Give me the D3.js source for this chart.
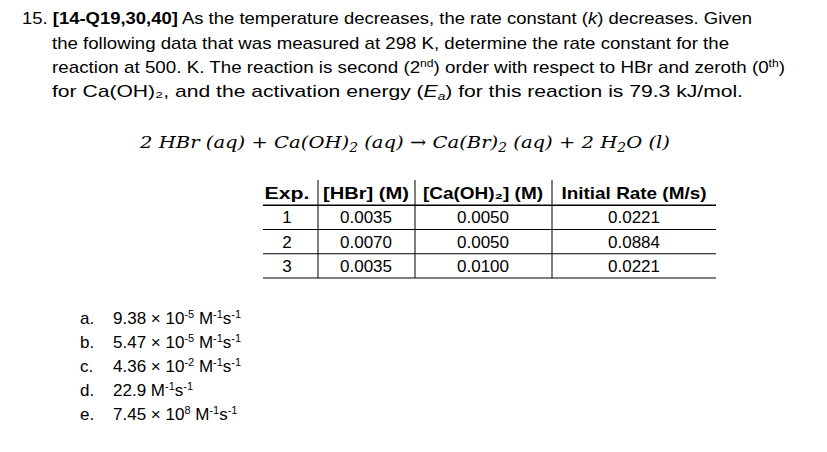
<!DOCTYPE html>
<html><head><meta charset="utf-8">
<script src="https://cdn.jsdelivr.net/npm/d3@7"></script>
<style>body{margin:0;background:#fff}text{font-family:"Liberation Sans",sans-serif;fill:#000}</style>
</head><body><svg id="q"></svg>
<script>
var headers = ['Exp.', '[HBr] (M)', '[Ca(OH)₂] (M)', 'Initial Rate (M/s)'];
var exps = ['1', '2', '3'];
var hbr = ['0.0035', '0.0070', '0.0035'];
var caoh = ['0.0050', '0.0050', '0.0100'];
var rates = ['0.0221', '0.0884', '0.0221'];
var letters = ['a.', 'b.', 'c.', 'd.', 'e.'];
var mant = ['9.38 × 10', '5.47 × 10', '4.36 × 10', '22.9', '7.45 × 10'];
var expo = ['-5', '-5', '-2', null, '8'];

var svg = d3.select('svg#q').attr('width', 827).attr('height', 452);
var fs = 17;

var lines = [
    {x: 22, end: 752, y: 24, parts: [['15. '], ['[14-Q19,30,40]', 'b'], [' As the temperature decreases, the rate constant ('], ['k', 'i'], [') decreases.  Given']]},
    {x: 52, end: 729, y: 49, parts: [['the following data that was measured at 298 K, determine the rate constant for the']]},
    {x: 52, end: 785, y: 73, parts: [['reaction at 500. K. The reaction is second (2'], ['nd', 'sup'], [') order with respect to HBr and zeroth (0'], ['th', 'sup'], [')']]},
    {x: 52, end: 743, y: 97, parts: [['for Ca(OH)₂, and the activation energy ('], ['E', 'i'], ['a', 'isub'], [') for this reaction is 79.3 kJ/mol.']]}
];

lines.forEach(function (l) {
    var t = svg.append('text').attr('x', l.x).attr('y', l.y).style('font-size', fs + 'px')
        .attr('textLength', l.end - l.x).attr('lengthAdjust', 'spacingAndGlyphs');
    var back = 0;
    l.parts.forEach(function (p) {
        var s = t.append('tspan').text(p[0]);
        var dy = back;
        back = 0;
        if (p[1] === 'b') s.style('font-weight', 'bold');
        if (p[1] === 'i') s.style('font-style', 'italic');
        if (p[1] === 'sup') { s.style('font-size', '11px'); dy += -6; back = 6; }
        if (p[1] === 'isub') { s.style('font-size', '11px').style('font-style', 'italic'); dy += 3; back = -3; }
        if (dy) s.attr('dy', dy);
    });
});

// equation
var eq = svg.append('text').attr('x', 140).attr('y', 148)
    .style('font-family', '"DejaVu Serif",serif').style('font-style', 'italic').style('font-size', '17px')
    .attr('textLength', 530).attr('lengthAdjust', 'spacingAndGlyphs');
eq.append('tspan').text('2 HBr  (aq)  + Ca(OH)');
eq.append('tspan').attr('dy', 4).style('font-size', '12px').text('2');
eq.append('tspan').attr('dy', -4).text(' (aq)  →  Ca(Br)');
eq.append('tspan').attr('dy', 4).style('font-size', '12px').text('2');
eq.append('tspan').attr('dy', -4).text(' (aq)  + 2 H');
eq.append('tspan').attr('dy', 4).style('font-size', '12px').text('2');
eq.append('tspan').attr('dy', -4).text('O (l)');

// table
var colEdges = [263, 318, 415, 552, 716];
var x = d3.scaleOrdinal().domain(d3.range(4)).range([287, 366, 483, 634]);
var y = d3.scaleBand().domain(d3.range(4)).range([181, 278]).paddingInner(0);
var rows = [headers].concat(exps.map(function (e, i) { return [e, hbr[i], caoh[i], rates[i]]; }));

var g = svg.append('g');
rows.forEach(function (r, ri) {
    r.forEach(function (c, ci) {
        var t = g.append('text').attr('x', x(ci)).attr('y', y(ri) + y.bandwidth() / 2 + 6)
            .attr('text-anchor', 'middle').style('font-size', fs + 'px')
            .style('font-weight', ri === 0 ? 'bold' : 'normal').text(c);
        if (ri === 0) t.attr('textLength', [45, 86, 120, 145][ci]).attr('lengthAdjust', 'spacingAndGlyphs');
    });
});
colEdges.slice(1, 4).forEach(function (cx) {
    g.append('line').attr('x1', cx).attr('x2', cx).attr('y1', 180).attr('y2', 278).attr('stroke', '#000');
});
d3.range(1, 5).forEach(function (ri) {
    var yy = ri < 4 ? y(ri) : 278;
    g.append('line').attr('x1', colEdges[0]).attr('x2', colEdges[4]).attr('y1', yy).attr('y2', yy)
        .attr('stroke', '#000').attr('stroke-width', ri === 1 ? 1.5 : 1);
});

// answers
var ya = d3.scaleLinear().domain([0, 4]).range([324, 420]);
letters.forEach(function (l, i) {
    svg.append('text').attr('x', 80).attr('y', ya(i)).style('font-size', fs + 'px').text(l);
    var t = svg.append('text').attr('x', 113).attr('y', ya(i)).style('font-size', fs + 'px');
    t.append('tspan').text(mant[i]);
    if (expo[i]) t.append('tspan').attr('dy', -6).style('font-size', '11px').text(expo[i]);
    t.append('tspan').attr('dy', expo[i] ? 6 : 0).text(' M');
    t.append('tspan').attr('dy', -6).style('font-size', '11px').text('-1');
    t.append('tspan').attr('dy', 6).text('s');
    t.append('tspan').attr('dy', -6).style('font-size', '11px').text('-1');
});
</script></body></html>
